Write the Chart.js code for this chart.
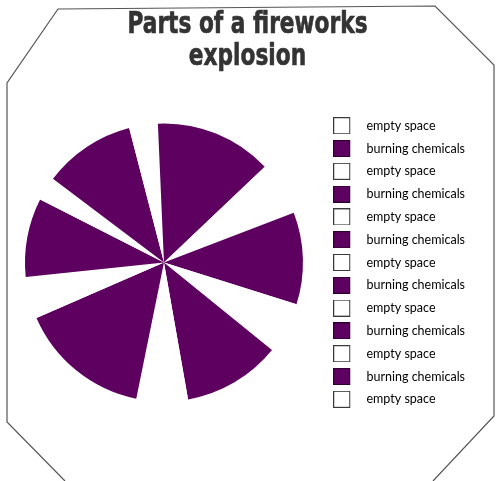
<!DOCTYPE html>
<html>
<head>
<meta charset="utf-8">
<script src="https://cdn.jsdelivr.net/npm/chart.js@4"></script>
<style>
  body { margin: 0; background: #fff; }
  #wrap { position: relative; width: 500px; height: 481px; }
  #title {
    position: absolute; top: 6px; left: 0; width: 495px;
    margin: 0; text-align: center;
    font-family: 'DejaVu Sans', sans-serif;
    font-weight: bold; font-size: 31px; line-height: 32px; color: #333;
    -webkit-text-stroke: 0.7px #333;
    transform: scaleX(0.7); transform-origin: 50% 0;
  }
  canvas { position: absolute; top: 0; left: 0; }
</style>
</head>
<body>
<div id="wrap">
  <canvas id="chartPie" width="500" height="481"></canvas>
  <h1 id="title">Parts of a fireworks<br>explosion</h1>
</div>
<script>
const labelsPie = ['empty space', 'burning chemicals', 'empty space', 'burning chemicals',
  'empty space', 'burning chemicals', 'empty space', 'burning chemicals',
  'empty space', 'burning chemicals', 'empty space', 'burning chemicals', 'empty space'];
// slice sizes in degrees
const valuesPie = [6, 49, 22.5, 38.5, 21.5, 41, 21.5, 55, 17.5, 33, 10, 38.5, 6];

const purple = '#5e0060';
const colorsPie = labelsPie.map(l => l === 'empty space' ? '#ffffff' : purple);

// little legend boxes, drawn once and handed to the legend as point styles
const makeBox = (fill, stroke) => {
  const c = document.createElement('canvas');
  c.width = 27;
  c.height = 17;
  const ctx = c.getContext('2d');
  ctx.fillStyle = fill;
  ctx.fillRect(0, 0, 17, 17);
  ctx.strokeStyle = stroke;
  ctx.lineWidth = 1;
  ctx.strokeRect(0.5, 0.5, 16, 16);
  return c;
};
const boxEmpty = makeBox('#ffffff', '#3a3a3a');
const boxBurning = makeBox(purple, '#2e0030');

const framePlugin = {
  id: 'frame',
  beforeDraw(chart) {
    const ctx = chart.ctx;
    ctx.save();
    ctx.strokeStyle = '#555';
    ctx.lineWidth = 1.2;
    ctx.beginPath();
    ctx.moveTo(65, 481);
    ctx.lineTo(7, 422);
    ctx.lineTo(7, 83);
    ctx.lineTo(58, 9);
    ctx.lineTo(435, 6);
    ctx.lineTo(494, 65);
    ctx.lineTo(494, 416);
    ctx.lineTo(433, 481);
    ctx.stroke();
    ctx.restore();
  }
};

const configPie = {
  type: 'pie',
  data: {
    labels: labelsPie,
    datasets: [{
      data: valuesPie,
      backgroundColor: colorsPie,
      borderWidth: 0,
      radius: 139
    }]
  },
  options: {
    responsive: false,
    animation: false,
    events: [],
    rotation: -8.5,
    layout: { padding: { left: 5, right: 25, top: 102, bottom: 58 } },
    plugins: {
      tooltip: { enabled: false },
      legend: {
        position: 'right',
        labels: {
          usePointStyle: true,
          pointStyleWidth: 27,
          padding: 10.3,
          color: '#262626',
          font: { family: 'Lato', size: 12.5 },
          generateLabels: () => labelsPie.map((text, i) => ({
            text,
            pointStyle: text === 'empty space' ? boxEmpty : boxBurning,
            fillStyle: colorsPie[i],
            lineWidth: 0,
            hidden: false,
            index: i
          }))
        }
      }
    }
  },
  plugins: [framePlugin]
};

const chartPie = new Chart(document.getElementById('chartPie'), configPie);
</script>
</body>
</html>
